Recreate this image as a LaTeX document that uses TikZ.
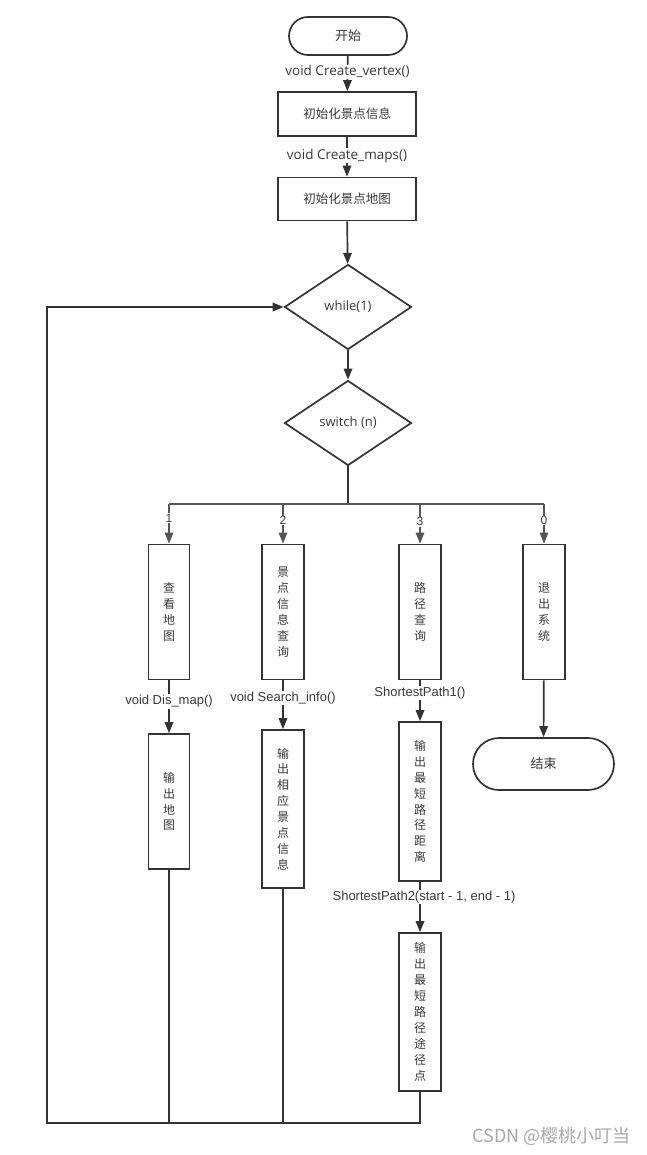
\documentclass[tikz,border=0pt]{standalone}
\usepackage{fontspec}
\usetikzlibrary{shapes.geometric,shapes.misc,arrows.meta}
\newfontfamily\cjk{Noto Sans CJK SC}
\newfontfamily\osans{Open Sans}
\newfontfamily\arl{Liberation Sans}
\definecolor{lc}{HTML}{333333}
\definecolor{tc}{HTML}{3A3A3A}
\definecolor{bc}{HTML}{555555}
\definecolor{wm}{HTML}{A8A8A8}
\tikzset{
  ln/.style={draw=lc, line width=1.7pt},
  arr/.style={ln, -{Triangle[length=11pt,width=8.5pt]}},
  thinarr/.style={draw=bc, line width=1.2pt, -{Triangle[length=11pt,width=8.5pt]}},
  boxn/.style={draw=lc, line width=1.7pt, fill=white, inner sep=0pt, text=tc, align=center,
    font=\cjk\fontsize{12.5}{16}\selectfont},
  vbox/.style={boxn, font=\cjk\fontsize{12}{15.9}\selectfont},
  term/.style={draw=lc, line width=1.7pt, fill=white, rounded rectangle, inner sep=0pt, text=tc,
    font=\cjk\fontsize{13}{15}\selectfont},
  dia/.style={draw=lc, line width=1.7pt, fill=white, diamond, inner sep=0pt, text=tc,
    font=\osans\fontsize{13}{15}\selectfont, minimum width=127pt, minimum height=85pt},
  lab/.style={fill=white, inner sep=1pt, text=tc, font=\osans\fontsize{13.5}{15}\selectfont},
  alab/.style={fill=white, inner sep=1pt, text=tc, font=\arl\fontsize{13}{15}\selectfont},
  nlab/.style={fill=white, inner sep=0.5pt, text=tc, font=\arl\fontsize{12}{14}\selectfont},
}
\begin{document}
\begin{tikzpicture}[x=1pt,y=-1pt]
\useasboundingbox[fill=white] (0,0) rectangle (646,1155);
% nodes
\node[term, minimum width=118pt, minimum height=38pt] (start) at (348,36) {开始};
\node[boxn, minimum width=138pt, minimum height=44pt] (b1) at (347,114) {初始化景点信息};
\node[boxn, minimum width=138pt, minimum height=43pt] (b2) at (347,199) {初始化景点地图};
\node[dia] (wh) at (348,307) {while(1)};
\node[dia] (sw) at (348,423) {switch (n)};
\node[vbox, minimum width=41pt, minimum height=135pt] (c1) at (169,612) {查\\看\\地\\图};
\node[vbox, minimum width=42pt, minimum height=135pt] (c2) at (283,612) {景\\点\\信\\息\\查\\询};
\node[vbox, minimum width=42pt, minimum height=135pt] (c3) at (420,612) {路\\径\\查\\询};
\node[vbox, minimum width=42pt, minimum height=135pt] (c0) at (544,612) {退\\出\\系\\统};
\node[vbox, minimum width=41pt, minimum height=135pt] (d1) at (169,801.5) {输\\出\\地\\图};
\node[vbox, minimum width=42pt, minimum height=158pt] (d2) at (283,809) {输\\出\\相\\应\\景\\点\\信\\息};
\node[vbox, minimum width=42pt, minimum height=159pt] (d3) at (420,801.5) {输\\出\\最\\短\\路\\径\\距\\离};
\node[vbox, minimum width=42pt, minimum height=158pt] (e3) at (420,1012) {输\\出\\最\\短\\路\\径\\途\\径\\点};
\node[term, minimum width=141pt, minimum height=52pt] (end) at (543.5,764) {结束};
% coordinates
\coordinate (split) at (348,504);
\coordinate (h1) at (169,504);
\coordinate (h2) at (283,504);
\coordinate (h3) at (420,504);
\coordinate (h0) at (544,504);
\coordinate (f1) at (169,1123);
\coordinate (f2) at (283,1123);
\coordinate (f3) at (420,1123);
\coordinate (fl) at (47,1123);
\coordinate (tl) at (47,307);
% connectors
\draw[arr] (start) -- node[lab, pos=0.45] {void Create\_vertex()} (b1);
\draw[arr] (b1) -- node[lab, pos=0.47] {void Create\_maps()} (b2);
\draw[arr] (b2) -- (wh);
\draw[arr] (wh) -- (sw);
\draw[draw=lc, line width=2.4pt] (sw.south) -- (split);
\draw[draw=bc, line width=1.3pt] (h1) -- (h0);
\draw[thinarr] (h1) -- node[nlab, pos=0.35] {1} (c1);
\draw[thinarr] (h2) -- node[nlab, pos=0.42] {2} (c2);
\draw[thinarr] (h3) -- node[nlab, pos=0.45] {3} (c3);
\draw[thinarr] (h0) -- node[nlab, pos=0.42] {0} (c0);
\draw[arr] (c1) -- node[alab, pos=0.4] {void Dis\_map()} (d1);
\draw[arr] (c2) -- node[alab, pos=0.36] {void Search\_info()} (d2);
\draw[arr] (c3) -- node[alab, pos=0.32] {ShortestPath1()} (d3);
\draw[arr] (c0) -- (end);
\draw[arr] (d3) -- node[alab, pos=0.3, xshift=4pt] {ShortestPath2(start - 1, end - 1)} (e3);
\draw[ln] (d1) -- (f1);
\draw[ln] (d2) -- (f2);
\draw[arr] (e3) -- (f3) -- (fl) -- (tl) -- (wh.west);
% watermark
\node[text=wm, font=\cjk\fontsize{18}{20}\selectfont, anchor=east, inner sep=0pt] (wmk) at (631,1136) {CSDN @樱桃小叮当};
\end{tikzpicture}
\end{document}
